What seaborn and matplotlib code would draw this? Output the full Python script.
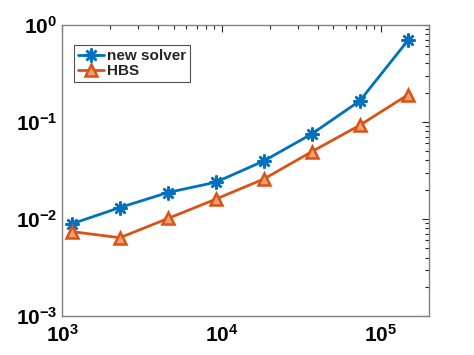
import numpy as np
import pandas as pd
import matplotlib
matplotlib.use('Agg')
import matplotlib.pyplot as plt
import seaborn as sns
from matplotlib.ticker import LogLocator, FixedLocator, FuncFormatter, NullFormatter

sns.set_style('white')
plt.rcParams['font.family'] = ['Liberation Sans', 'DejaVu Sans']
plt.rcParams['mathtext.fontset'] = 'custom'
plt.rcParams['mathtext.rm'] = 'Liberation Sans:bold'
plt.rcParams['mathtext.it'] = 'Liberation Sans:bold'
plt.rcParams['mathtext.bf'] = 'Liberation Sans:bold'

# 数据
n = [1152, 2304, 4608, 9216, 18432, 36864, 73728, 147456]
new_solver = [0.0089, 0.0131, 0.0187, 0.0239, 0.0396, 0.0752, 0.165, 0.69]
hbs = [0.0074, 0.0064, 0.0101, 0.0160, 0.0258, 0.0494, 0.0925, 0.19]

df = pd.DataFrame({'n': n, 'new solver': new_solver, 'HBS': hbs})

blue = '#0072BD'
orange = '#D95319'

fig, ax = plt.subplots(figsize=(4.74, 3.55), dpi=100)
fig.subplots_adjust(left=0.131, right=0.905, top=0.930, bottom=0.110)

sns.lineplot(data=df, x='n', y='new solver', ax=ax, color=blue, lw=2,
             marker=(8, 2, 0), markersize=10, markeredgewidth=1.8,
             markeredgecolor=blue, label='new solver')
sns.lineplot(data=df, x='n', y='HBS', ax=ax, color=orange, lw=2,
             marker='^', markersize=8, markeredgewidth=1.8,
             markeredgecolor=orange, markerfacecolor='#F0A070', label='HBS')

ax.set_xscale('log')
ax.set_yscale('log')
ax.set_xlim(1e3, 2e5)
ax.set_ylim(1e-3, 1e0)
ax.set_xlabel('')
ax.set_ylabel('')

fmt = FuncFormatter(lambda v, p: r'$10^{%d}$' % int(round(np.log10(v))))
ax.xaxis.set_major_locator(FixedLocator([1e3, 1e4, 1e5]))
ax.yaxis.set_major_locator(FixedLocator([1e-3, 1e-2, 1e-1, 1e0]))
ax.xaxis.set_major_formatter(fmt)
ax.yaxis.set_major_formatter(fmt)
ax.xaxis.set_minor_locator(LogLocator(base=10, subs=np.arange(2, 10), numticks=20))
ax.yaxis.set_minor_locator(LogLocator(base=10, subs=np.arange(2, 10), numticks=20))
ax.xaxis.set_minor_formatter(NullFormatter())
ax.yaxis.set_minor_formatter(NullFormatter())

axc = '#262626'
ax.tick_params(which='both', direction='in', top=True, right=True, colors=axc,
               labelcolor='black', labelsize=15, width=0.8)
ax.tick_params(which='major', length=5)
ax.tick_params(which='minor', length=3)
ax.tick_params(axis='x', pad=6)
for s in ax.spines.values():
    s.set_color('#808080')
    s.set_linewidth(1.0)

leg = ax.legend(loc='upper left', bbox_to_anchor=(0.02, 0.945),
                prop={'weight': 'bold', 'size': 11}, frameon=True, fancybox=False,
                handlelength=1.7, handletextpad=0.2, borderpad=0.25, labelspacing=0.05,
                borderaxespad=0.3)
leg.get_frame().set_edgecolor('#262626')
leg.get_frame().set_linewidth(0.8)

fig.savefig('out.png', dpi=100)
